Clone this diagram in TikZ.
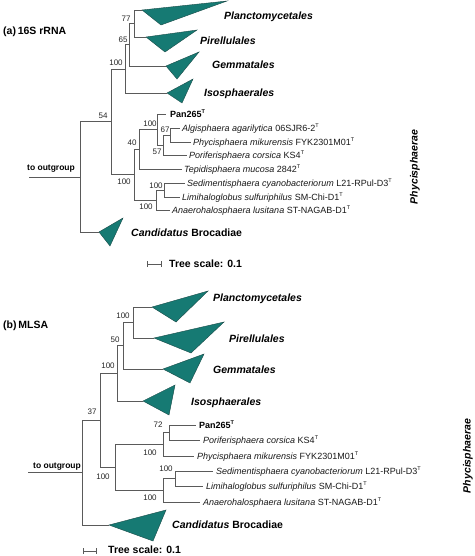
\documentclass[tikz,border=0pt]{standalone}
\usepackage{fontspec}
\setmainfont{Liberation Sans}
\definecolor{tealfill}{RGB}{22,122,115}
\definecolor{tealedge}{RGB}{25,75,72}
\definecolor{brgray}{RGB}{90,90,90}
\newcommand{\Tsup}{\textsuperscript{\fontsize{5.5}{6}\selectfont T}}
\begin{document}
\begin{tikzpicture}[x=1pt,y=-1pt,
  br/.style={draw=brgray, line width=0.75pt},
  tri/.style={fill=tealfill, draw=tealedge, line width=0.4pt},
  lf/.style={anchor=base west, inner sep=0pt, font=\fontsize{9}{10}\selectfont, text=black!90},
  cl/.style={anchor=base west, inner sep=0pt, font=\fontsize{10.5}{12}\selectfont\bfseries\itshape},
  hd/.style={anchor=base west, inner sep=0pt, font=\fontsize{10.5}{12}\selectfont\bfseries},
  og/.style={anchor=base west, inner sep=0pt, font=\fontsize{8.5}{10}\selectfont\bfseries},
  bs/.style={anchor=base, inner sep=0pt, font=\fontsize{8}{9}\selectfont, text=black!85},
  phy/.style={rotate=90, inner sep=0pt, font=\fontsize{10.5}{12}\selectfont\bfseries\itshape}]
\useasboundingbox[fill=white] (0,0) rectangle (474,556);

% ================= panel (a) =================
\node[hd] (ha) at (3,34.8) {(a)\,16S rRNA};
% triangles
\coordinate (tPla) at (142,10);  \filldraw[tri] (tPla) -- (227,1) -- (161,25) -- cycle;
\coordinate (tPia) at (146,37);  \filldraw[tri] (tPia) -- (197,30) -- (165,52) -- cycle;
\coordinate (tGea) at (166,66);  \filldraw[tri] (tGea) -- (199,52) -- (177,79) -- cycle;
\coordinate (tIsa) at (167,93);  \filldraw[tri] (tIsa) -- (193,79) -- (182,103) -- cycle;
\coordinate (tCaa) at (99,232);  \filldraw[tri] (tCaa) -- (123,218) -- (110,246) -- cycle;
\node[cl] (lPla) at (224,19.8) {Planctomycetales};
\node[cl] (lPia) at (200,44.8) {Pirellulales};
\node[cl] (lGea) at (212,68.8) {Gemmatales};
\node[cl] (lIsa) at (204,96.8) {Isosphaerales};
\node[hd] (lCaa) at (131,236.8) {\textit{Candidatus} Brocadiae};
% internal nodes
\coordinate (n77a) at (134,23.5);
\coordinate (n65a) at (129,44.75);
\coordinate (n100pa) at (125,68.9);
\coordinate (n54a) at (111,121.85);
\coordinate (ra) at (80,176.9);
\coordinate (oga) at (29,176.9);
\coordinate (n67a) at (170,135);
\coordinate (n57a) at (163,145.25);
\coordinate (np100a) at (157,129.6);
\coordinate (n40a) at (139,149.3);
\coordinate (ns100a) at (164,190);
\coordinate (nb100a) at (156,200.25);
\coordinate (nphya) at (134,174.8);
% leaf tips
\coordinate (pPan) at (166,114);
\coordinate (pAlg) at (180,128);
\coordinate (pPhy) at (191,142);
\coordinate (pPor) at (187,155.5);
\coordinate (pTep) at (182,169);
\coordinate (pSed) at (185,183);
\coordinate (pLim) at (180,197);
\coordinate (pAna) at (170,210.5);
\node[lf,font=\fontsize{9}{10}\selectfont\bfseries,text=black] (aPan) at (170,117.2) {Pan265\Tsup};
\node[lf] (aAlg) at (182,131.2) {\textit{Algisphaera agarilytica} 06SJR6-2\Tsup};
\node[lf] (aPhy) at (193,145.2) {\textit{Phycisphaera mikurensis} FYK2301M01\Tsup};
\node[lf] (aPor) at (189,158.7) {\textit{Poriferisphaera corsica} KS4\Tsup};
\node[lf] (aTep) at (184,172.2) {\textit{Tepidisphaera mucosa} 2842\Tsup};
\node[lf] (aSed) at (187,186.2) {\textit{Sedimentisphaera cyanobacteriorum} L21-RPul-D3\Tsup};
\node[lf] (aLim) at (182,200.2) {\textit{Limihaloglobus sulfuriphilus} SM-Chi-D1\Tsup};
\node[lf] (aAna) at (172,213.7) {\textit{Anaerohalosphaera lusitana} ST-NAGAB-D1\Tsup};
% branches
\draw[br] (n77a) |- (tPla);  \draw[br] (n77a) |- (tPia);
\draw[br] (n65a) |- (n77a);  \draw[br] (n65a) |- (tGea);
\draw[br] (n100pa) |- (n65a); \draw[br] (n100pa) |- (tIsa);
\draw[br] (n54a) |- (n100pa); \draw[br] (n54a) |- (nphya);
\draw[br] (ra) |- (n54a); \draw[br] (ra) |- (tCaa);
\draw[br] (oga) -- (ra);
\draw[br] (n67a) |- (pAlg); \draw[br] (n67a) |- (pPhy);
\draw[br] (n57a) |- (n67a); \draw[br] (n57a) |- (pPor);
\draw[br] (np100a) |- (pPan); \draw[br] (np100a) |- (n57a);
\draw[br] (n40a) |- (np100a); \draw[br] (n40a) |- (pTep);
\draw[br] (ns100a) |- (pSed); \draw[br] (ns100a) |- (pLim);
\draw[br] (nb100a) |- (ns100a); \draw[br] (nb100a) |- (pAna);
\draw[br] (nphya) |- (n40a); \draw[br] (nphya) |- (nb100a);
% bootstrap values
\node[bs] at (126,21.7) {77};
\node[bs] at (123,42.7) {65};
\node[bs] at (116,65.7) {100};
\node[bs] at (103,118.7) {54};
\node[bs] at (132,145.7) {40};
\node[bs] at (150,126.7) {100};
\node[bs] at (165,132.7) {67};
\node[bs] at (157,154.7) {57};
\node[bs] at (124,184.7) {100};
\node[bs] at (156,188.7) {100};
\node[bs] at (146,209.7) {100};
% outgroup, scale, class label
\node[og] (toga) at (27,171) {to outgroup};
\coordinate (sa1) at (147,264); \coordinate (sa2) at (162,264);
\draw[br, line width=0.6pt, |-|] (sa1) -- (sa2);
\node[hd] (tsa) at (169,267.8) {Tree scale: 0.1};
\node[phy] (phya) at (415,167) {Phycisphaerae};

% ================= panel (b) =================
\node[hd] (hb) at (3,328.8) {(b)\,MLSA};
\coordinate (tPlb) at (152,307);  \filldraw[tri] (tPlb) -- (208,291) -- (176,322) -- cycle;
\coordinate (tPib) at (154,338);  \filldraw[tri] (tPib) -- (224,322) -- (191,353) -- cycle;
\coordinate (tGeb) at (163,369);  \filldraw[tri] (tGeb) -- (204,354) -- (190,383) -- cycle;
\coordinate (tIsb) at (143,401);  \filldraw[tri] (tIsb) -- (175,385) -- (169,415) -- cycle;
\coordinate (tCab) at (109,525);  \filldraw[tri] (tCab) -- (166,510) -- (153,541) -- cycle;
\node[cl] (lPlb) at (213,301.8) {Planctomycetales};
\node[cl] (lPib) at (229,342.8) {Pirellulales};
\node[cl] (lGeb) at (213,373.8) {Gemmatales};
\node[cl] (lIsb) at (191,405.8) {Isosphaerales};
\node[hd] (lCab) at (172,528.8) {\textit{Candidatus} Brocadiae};
% internal nodes
\coordinate (n100b1) at (133,322.5);
\coordinate (n50b) at (123,345.75);
\coordinate (n100b2) at (117,373.4);
\coordinate (n37b) at (100,420.4);
\coordinate (nphyb) at (115,467.4);
\coordinate (n72b) at (169,432.75);
\coordinate (n100cb) at (163,444.4);
\coordinate (n100eb) at (175,478.75);
\coordinate (n100db) at (163,490.4);
\coordinate (rb) at (82,472.7);
\coordinate (ogb) at (28,472.7);
% leaf tips
\coordinate (qPan) at (196,425);
\coordinate (qPor) at (200,440.5);
\coordinate (qPhy) at (194,456);
\coordinate (qSed) at (213,471);
\coordinate (qLim) at (203,486.5);
\coordinate (qAna) at (200,502);
\node[lf,font=\fontsize{9}{10}\selectfont\bfseries,text=black] (bPan) at (199,428.2) {Pan265\Tsup};
\node[lf] (bPor) at (203,443.7) {\textit{Poriferisphaera corsica} KS4\Tsup};
\node[lf] (bPhy) at (197,459.2) {\textit{Phycisphaera mikurensis} FYK2301M01\Tsup};
\node[lf] (bSed) at (216,474.2) {\textit{Sedimentisphaera cyanobacteriorum} L21-RPul-D3\Tsup};
\node[lf] (bLim) at (206,489.7) {\textit{Limihaloglobus sulfuriphilus} SM-Chi-D1\Tsup};
\node[lf] (bAna) at (203,505.2) {\textit{Anaerohalosphaera lusitana} ST-NAGAB-D1\Tsup};
% branches
\draw[br] (n100b1) |- (tPlb); \draw[br] (n100b1) |- (tPib);
\draw[br] (n50b) |- (n100b1); \draw[br] (n50b) |- (tGeb);
\draw[br] (n100b2) |- (n50b); \draw[br] (n100b2) |- (tIsb);
\draw[br] (n37b) |- (n100b2); \draw[br] (n37b) |- (nphyb);
\draw[br] (rb) |- (n37b); \draw[br] (rb) |- (tCab);
\draw[br] (ogb) -- (rb);
\draw[br] (n72b) |- (qPan); \draw[br] (n72b) |- (qPor);
\draw[br] (n100cb) |- (n72b); \draw[br] (n100cb) |- (qPhy);
\draw[br] (n100eb) |- (qSed); \draw[br] (n100eb) |- (qLim);
\draw[br] (n100db) |- (n100eb); \draw[br] (n100db) |- (qAna);
\draw[br] (nphyb) |- (n100cb); \draw[br] (nphyb) |- (n100db);
% bootstrap values
\node[bs] at (123,318.7) {100};
\node[bs] at (115,342.7) {50};
\node[bs] at (108,368.7) {100};
\node[bs] at (92,414.7) {37};
\node[bs] at (158,427.7) {72};
\node[bs] at (150,455.7) {100};
\node[bs] at (103,479.7) {100};
\node[bs] at (166,471.7) {100};
\node[bs] at (150,500.7) {100};
% outgroup, scale, class label
\node[og] (togb) at (33,468) {to outgroup};
\coordinate (sb1) at (83,551); \coordinate (sb2) at (97,551);
\draw[br, line width=0.6pt, |-|] (sb1) -- (sb2);
\node[hd] (tsb) at (108,553.8) {Tree scale: 0.1};
\node[phy] (phyb) at (468,456) {Phycisphaerae};
\end{tikzpicture}
\end{document}
